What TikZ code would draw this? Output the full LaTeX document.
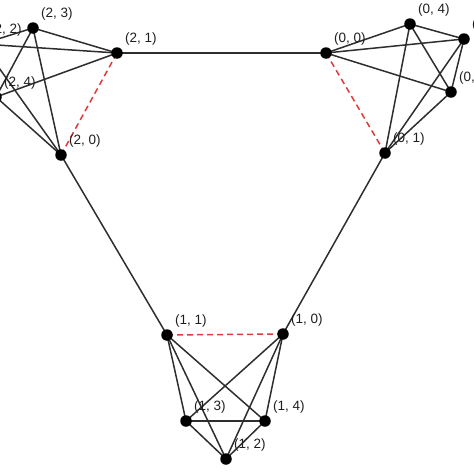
\documentclass[tikz,border=0pt]{standalone}
\usepackage{fontspec}
\setmainfont{Liberation Sans}
\usetikzlibrary{calc,backgrounds}
\begin{document}
\begin{tikzpicture}[x=1pt,y=-1pt,
  vtx/.style={circle,fill=black,inner sep=0pt,minimum size=11.5pt},
  edge/.style={draw=black!82,line width=1.5pt},
  portedge/.style={draw={rgb,255:red,222;green,60;blue,60},line width=1.5pt,dash pattern=on 6pt off 4pt},
  lbl/.style={anchor=west,inner sep=0pt,font=\fontsize{13.5}{16}\selectfont,text=black!88}]
\clip (0,0) rectangle (474,474);
% cluster 2
\node[vtx] (a20) at (61,155) {};
\node[vtx] (a21) at (117,53) {};
\node[vtx] (a22) at (-18,44) {};
\node[vtx] (a23) at (33,28) {};
\node[vtx] (a24) at (-4,97) {};
% cluster 0
\node[vtx] (a00) at (326,53) {};
\node[vtx] (a01) at (385,153) {};
\node[vtx] (a02) at (451,92) {};
\node[vtx] (a03) at (464,39) {};
\node[vtx] (a04) at (410,24) {};
% cluster 1
\node[vtx] (a10) at (283,334) {};
\node[vtx] (a11) at (167,335) {};
\node[vtx] (a12) at (226,459) {};
\node[vtx] (a13) at (186,421) {};
\node[vtx] (a14) at (265,421) {};
% labels
\foreach \n/\t in {a20/{(2, 0)},a21/{(2, 1)},a22/{(2, 2)},a23/{(2, 3)},a24/{(2, 4)},
                   a00/{(0, 0)},a01/{(0, 1)},a02/{(0, 2)},a03/{(0, 3)},a04/{(0, 4)},
                   a10/{(1, 0)},a11/{(1, 1)},a12/{(1, 2)},a13/{(1, 3)},a14/{(1, 4)}}
  \node[lbl] (l\n) at ($(\n)+(8,-14)$) {\t};
\begin{pgfonlayer}{background}
  \foreach \c in {2,0,1}{
    \draw[edge] (a\c0.center) -- (a\c2.center);
    \draw[edge] (a\c0.center) -- (a\c3.center);
    \draw[edge] (a\c0.center) -- (a\c4.center);
    \draw[edge] (a\c1.center) -- (a\c2.center);
    \draw[edge] (a\c1.center) -- (a\c3.center);
    \draw[edge] (a\c1.center) -- (a\c4.center);
    \draw[edge] (a\c2.center) -- (a\c3.center);
    \draw[edge] (a\c2.center) -- (a\c4.center);
    \draw[edge] (a\c3.center) -- (a\c4.center);
    \draw[portedge] (a\c0.center) -- (a\c1.center);
  }
  \draw[edge] (a21.center) -- (a00.center);
  \draw[edge] (a20.center) -- (a11.center);
  \draw[edge] (a01.center) -- (a10.center);
\end{pgfonlayer}
\end{tikzpicture}
\end{document}
